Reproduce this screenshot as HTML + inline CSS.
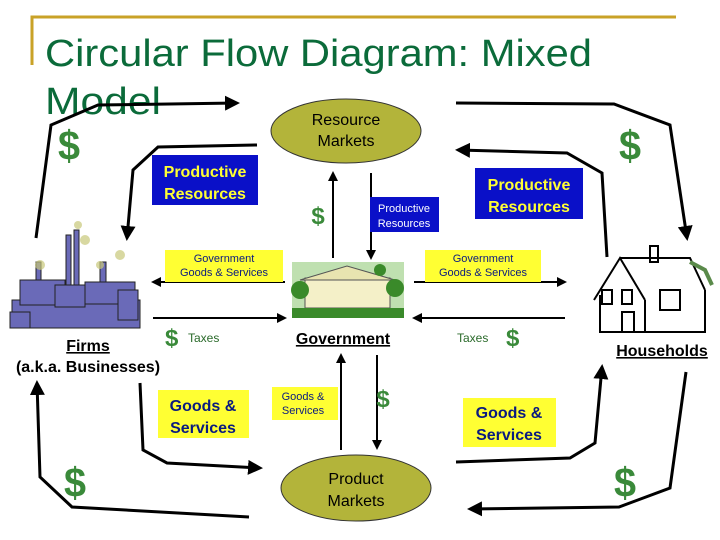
<!DOCTYPE html>
<html><head><style>body{margin:0;background:#fff}svg{display:block}</style></head><body>
<svg width="720" height="540" viewBox="0 0 720 540" xmlns="http://www.w3.org/2000/svg" font-family="Liberation Sans, sans-serif">
<defs><marker id="a" viewBox="0 0 10 10" refX="8" refY="5" markerWidth="5" markerHeight="5" orient="auto"><path d="M0,0L10,5L0,10z" fill="#000"/></marker></defs>
<path d="M32,65V17H676" fill="none" stroke="#c9a227" stroke-width="3"/>
<text x="45" y="66" font-size="38" fill="#0b6b3a" textLength="547" lengthAdjust="spacingAndGlyphs">Circular Flow Diagram: Mixed</text>
<text x="45" y="114" font-size="38" fill="#0b6b3a" textLength="116" lengthAdjust="spacingAndGlyphs">Model</text>
<g font-weight="bold" fill="#3a8a3a" font-size="42">
<text x="58" y="160" textLength="22" lengthAdjust="spacingAndGlyphs">$</text><text x="619" y="160" textLength="22" lengthAdjust="spacingAndGlyphs">$</text><text x="64" y="497" textLength="22" lengthAdjust="spacingAndGlyphs">$</text><text x="614" y="497" textLength="22" lengthAdjust="spacingAndGlyphs">$</text></g>
<ellipse cx="346" cy="131" rx="75" ry="32" fill="#b3b43a" stroke="#333"/>
<text x="346" y="125" font-size="16" text-anchor="middle">Resource</text><text x="346" y="146" font-size="16" text-anchor="middle">Markets</text>
<ellipse cx="356" cy="488" rx="75" ry="33" fill="#b3b43a" stroke="#333"/>
<text x="356" y="484" font-size="16" text-anchor="middle">Product</text><text x="356" y="506" font-size="16" text-anchor="middle">Markets</text>
<g fill="none" stroke="#000" stroke-width="3" marker-end="url(#a)">
<path d="M36,238L51,125L98,105L237,103"/>
<path d="M257,145L158,147L133,170L127,238"/>
<path d="M456,103L614,104L670,125L687,238"/>
<path d="M607,257L602,173L567,153L458,150"/>
<path d="M140,383L143,450L167,463L260,468"/>
<path d="M249,517L72,507L40,477L37,383"/>
<path d="M456,462L570,458L595,443L602,367"/>
<path d="M686,372L670,488L619,507L470,509"/>
</g>
<g fill="none" stroke="#000" stroke-width="2" marker-end="url(#a)">
<path d="M333,258V173"/><path d="M371,173V258"/>
<path d="M285,282H153"/><path d="M414,282H565"/>
<path d="M153,318H285"/><path d="M565,318H414"/>
<path d="M341,450V355"/><path d="M377,355V448"/>
</g>
<g font-weight="bold" fill="#ffff33" font-size="16" text-anchor="middle">
<rect x="152" y="155" width="106" height="50" fill="#0a10c8"/><text x="205" y="177">Productive</text><text x="205" y="199">Resources</text>
<rect x="475" y="168" width="108" height="51" fill="#0a10c8"/><text x="529" y="190">Productive</text><text x="529" y="212">Resources</text>
<rect x="370" y="197" width="69" height="35" fill="#0a10c8"/><text x="404" y="212" font-size="11" font-weight="normal" fill="#fff">Productive</text><text x="404" y="227" font-size="11" font-weight="normal" fill="#fff">Resources</text>
</g>
<text x="318" y="224" font-size="24" font-weight="bold" fill="#3a8a3a" text-anchor="middle">$</text>
<g fill="#0a1a80" text-anchor="middle">
<rect x="165" y="250" width="118" height="32" fill="#ffff33"/><text x="224" y="262" font-size="11">Government</text><text x="224" y="276" font-size="11">Goods &amp; Services</text>
<rect x="425" y="250" width="116" height="32" fill="#ffff33"/><text x="483" y="262" font-size="11">Government</text><text x="483" y="276" font-size="11">Goods &amp; Services</text>
<rect x="158" y="390" width="91" height="48" fill="#ffff33"/><text x="203" y="411" font-size="16" font-weight="bold">Goods &amp;</text><text x="203" y="433" font-size="16" font-weight="bold">Services</text>
<rect x="463" y="398" width="93" height="49" fill="#ffff33"/><text x="509" y="418" font-size="16" font-weight="bold">Goods &amp;</text><text x="509" y="440" font-size="16" font-weight="bold">Services</text>
<rect x="272" y="387" width="66" height="33" fill="#ffff33"/><text x="303" y="400" font-size="11">Goods &amp;</text><text x="303" y="414" font-size="11">Services</text>
</g>
<text x="383" y="407" font-size="24" font-weight="bold" fill="#3a8a3a" text-anchor="middle">$</text>
<text x="165" y="346" font-size="24" font-weight="bold" fill="#3a8a3a">$</text><text x="188" y="342" font-size="12" fill="#2a6a2a">Taxes</text>
<text x="457" y="342" font-size="12" fill="#2a6a2a">Taxes</text><text x="506" y="346" font-size="24" font-weight="bold" fill="#3a8a3a">$</text>
<g font-weight="bold" font-size="16" text-anchor="middle" text-decoration="underline">
<text x="343" y="344">Government</text><text x="88" y="351">Firms</text><text x="662" y="356">Households</text></g>
<text x="88" y="372" font-size="16" font-weight="bold" text-anchor="middle">(a.k.a. Businesses)</text>
<!-- factory -->
<g fill="#6a6ab8" stroke="#222" stroke-width="1">
<rect x="66" y="235" width="5" height="60"/><rect x="74" y="230" width="5" height="65"/><rect x="100" y="262" width="6" height="35"/><rect x="36" y="262" width="5" height="35"/>
<rect x="12" y="300" width="128" height="28"/><rect x="20" y="280" width="45" height="25"/><rect x="55" y="285" width="30" height="22"/><rect x="85" y="282" width="50" height="22"/>
<rect x="10" y="312" width="20" height="16"/><rect x="118" y="290" width="20" height="30"/>
</g>
<g fill="#c8c87a" opacity=".7"><circle cx="40" cy="265" r="5"/><circle cx="85" cy="240" r="5"/><circle cx="120" cy="255" r="5"/><circle cx="100" cy="265" r="4"/><circle cx="78" cy="225" r="4"/></g>
<!-- government building -->
<rect x="292" y="262" width="112" height="56" fill="#bfe0b0"/>
<rect x="305" y="278" width="85" height="30" fill="#f4f0c8" stroke="#555"/>
<path d="M300,280L347,266L395,280Z" fill="#e8e4b0" stroke="#555"/>
<g fill="#3a8a2a"><circle cx="300" cy="290" r="9"/><circle cx="395" cy="288" r="9"/><circle cx="380" cy="270" r="6"/><rect x="292" y="308" width="112" height="10"/></g>
<!-- house -->
<g fill="none" stroke="#000" stroke-width="2">
<path d="M594,300L620,258L645,300"/><path d="M620,258H690L705,290"/><path d="M600,295V332H705V290"/><path d="M645,300V332"/>
<rect x="602" y="290" width="10" height="14"/><rect x="622" y="290" width="10" height="14"/><rect x="660" y="290" width="20" height="20"/><rect x="622" y="312" width="12" height="20"/>
<rect x="650" y="246" width="8" height="16"/></g>
<path d="M690,262L705,270L712,285" stroke="#5a8a4a" stroke-width="4" fill="none"/>
</svg>
</body></html>
